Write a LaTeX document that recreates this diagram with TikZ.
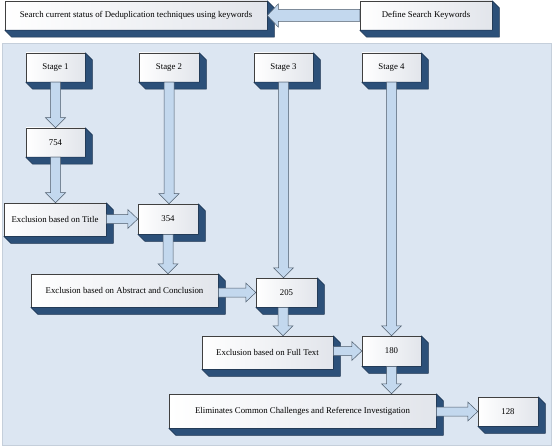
\documentclass[tikz,border=0pt]{standalone}
\usepackage{fontspec}
\setmainfont{Liberation Serif}
\usetikzlibrary{calc}
\definecolor{panelfill}{HTML}{DCE6F2}
\definecolor{panelline}{HTML}{C5CFDB}
\definecolor{sidefill}{HTML}{2C5079}
\definecolor{sideline}{HTML}{1B3350}
\definecolor{arrowfill}{HTML}{C3D8EE}
\definecolor{arrowline}{HTML}{4D5B6B}
\definecolor{frontshade}{HTML}{E2E5EB}
\tikzset{
  box3d/.style={draw=black!75, line width=0.5pt, left color=white, right color=frontshade,
    inner sep=0pt, font=\fontsize{8.8}{10}\selectfont, align=center},
  side3d/.style={fill=sidefill, draw=sideline, line width=0.5pt, line join=round},
  fatarrow/.style={fill=arrowfill, draw=arrowline, line width=0.5pt, line join=miter},
  panelbox/.style={fill=panelfill, draw=panelline, line width=0.8pt},
}
\newcommand{\vfat}[2]{%
  \draw[fatarrow] let \p1=#1, \p2=#2 in
   (\x1-5pt,\y1) -- (\x1-5pt,\y2+10pt) -- (\x1-10pt,\y2+10pt) -- (\x1,\y2)
   -- (\x1+10pt,\y2+10pt) -- (\x1+5pt,\y2+10pt) -- (\x1+5pt,\y1) -- cycle;}
\newcommand{\hfat}[2]{%
  \draw[fatarrow] let \p1=#1, \p2=#2 in
   (\x1,\y2+4.5pt) -- (\x2-10pt,\y2+4.5pt) -- (\x2-10pt,\y2+9.5pt) -- (\x2,\y2)
   -- (\x2-10pt,\y2-9.5pt) -- (\x2-10pt,\y2-4.5pt) -- (\x1,\y2-4.5pt) -- cycle;}
\begin{document}
\begin{tikzpicture}[x=1pt,y=-1pt]
\useasboundingbox (0,0) rectangle (553,446);
\draw[panelbox] (2,43) rectangle (551,445);
% nodes
\node[box3d, minimum width=262, minimum height=29] (search) at (136,15.5) {Search current status of Deduplication techniques using keywords};
\node[box3d, minimum width=132, minimum height=29] (define) at (426,15.5) {Define Search Keywords};
\node[box3d, minimum width=59, minimum height=29] (stage1) at (55.5,67.5) {Stage 1};
\node[box3d, minimum width=60, minimum height=29] (stage2) at (169,67.5) {Stage 2};
\node[box3d, minimum width=59, minimum height=29] (stage3) at (283.5,67.5) {Stage 3};
\node[box3d, minimum width=59, minimum height=29] (stage4) at (391.5,67.5) {Stage 4};
\node[box3d, minimum width=59, minimum height=29] (n754) at (55.5,142.5) {754};
\node[box3d, minimum width=102, minimum height=33] (title) at (55,219.5) {Exclusion based on Title};
\node[box3d, minimum width=60, minimum height=30] (n354) at (168,219) {354};
\node[box3d, minimum width=187, minimum height=33] (abstract) at (124.5,290.5) {Exclusion based on Abstract and Conclusion};
\node[box3d, minimum width=61, minimum height=29] (n205) at (286.5,292.5) {205};
\node[box3d, minimum width=131, minimum height=33] (fulltext) at (267.5,352.5) {Exclusion based on Full Text};
\node[box3d, minimum width=59, minimum height=30] (n180) at (391.5,351) {180};
\node[box3d, minimum width=267, minimum height=34] (elim) at (302.5,411) {Eliminates Common Challenges and Reference Investigation};
\node[box3d, minimum width=60, minimum height=29] (n128) at (508,411.5) {128};
% extrusions
\foreach \n in {search,define,stage1,stage2,stage3,stage4,n754,title,n354,abstract,n205,fulltext,n180,elim,n128}
  \draw[side3d] (\n.north east) -- ++(7,7) -- ($(\n.south east)+(7,7)$) -- ($(\n.south west)+(7,7)$)
     -- (\n.south west) -- (\n.south east) -- cycle;
% connectors
\draw[fatarrow] let \p1=(define.west), \p2=(search.east) in
   (\x1,\y2+6pt) -- (\x2+11pt,\y2+6pt) -- (\x2+11pt,\y2+11.5pt) -- (\x2,\y2)
   -- (\x2+11pt,\y2-11.5pt) -- (\x2+11pt,\y2-6pt) -- (\x1,\y2-6pt) -- cycle;
\vfat{(stage1.south)}{(n754.north)}
\vfat{(n754.south)}{(title.north)}
\hfat{(title.east)}{(n354.west)}
\vfat{(stage2.south)}{(n354.north)}
\vfat{(n354.south)}{(abstract.north)}
\hfat{(abstract.east)}{(n205.west)}
\vfat{(stage3.south)}{(n205.north)}
\vfat{($(n205.south)+(-3.5,0)$)}{(fulltext.north)}
\hfat{(fulltext.east)}{(n180.west)}
\vfat{(stage4.south)}{(n180.north)}
\vfat{(n180.south)}{(elim.north)}
\hfat{(elim.east)}{(n128.west)}
\end{tikzpicture}
\end{document}
